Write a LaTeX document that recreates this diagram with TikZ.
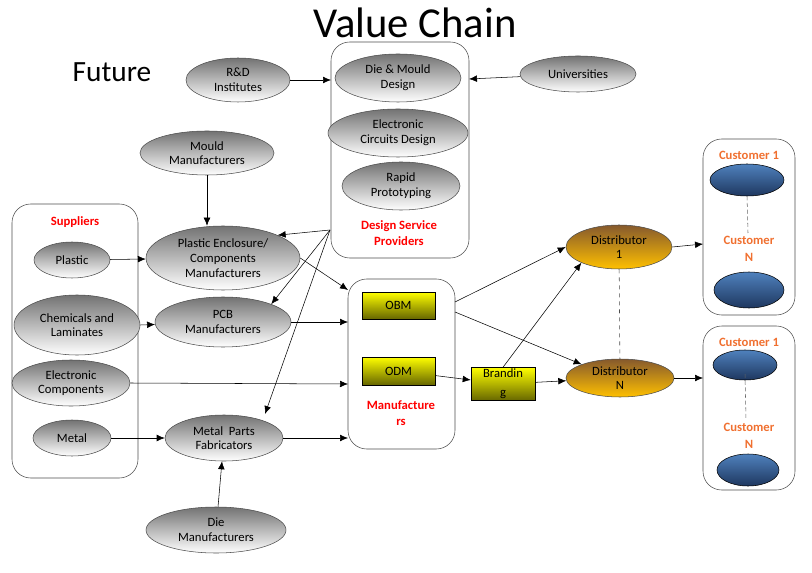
\documentclass[tikz,border=0pt]{standalone}
\usepackage{fontspec}
\setmainfont{Carlito}
\usetikzlibrary{shapes.geometric,arrows.meta}
\definecolor{dsp}{HTML}{FF0000}
\definecolor{cust}{HTML}{F07030}
\begin{document}
\begin{tikzpicture}[x=0.75pt,y=-0.75pt,
 ge/.style={ellipse,draw=black!70,top color=black!55,bottom color=white,inner sep=0pt,align=center,font=\fontsize{9.5}{11}\selectfont},
 de/.style={ellipse,draw=black!70,top color=brown!70!black,bottom color={rgb,255:red,255;green,192;blue,0},inner sep=0pt,align=center,font=\fontsize{9.5}{11}\selectfont},
 ce/.style={ellipse,draw=black,top color={rgb,255:red,79;green,129;blue,189},bottom color={rgb,255:red,30;green,55;blue,95},inner sep=0pt},
 yr/.style={rectangle,draw=black,top color=yellow,bottom color=olive!80!black,inner sep=0pt,align=center,font=\fontsize{9.5}{11}\selectfont},
 box/.style={draw=black!70,rounded corners=14pt,inner sep=0pt},
 rl/.style={text=dsp,font=\bfseries\fontsize{9.5}{12.5}\selectfont,align=center},
 cl/.style={text=cust,font=\bfseries\fontsize{9.5}{12.5}\selectfont,align=center},
 ar/.style={-{Latex[length=6pt,width=5pt]},black}]
\useasboundingbox (0,0) rectangle (812,573);
\node (title) at (415,23) {\fontsize{32}{34}\selectfont Value Chain};
\node (future) at (112,72) {\fontsize{22}{24}\selectfont Future};
% boxes
\node[box,minimum width=138*0.75pt,minimum height=216*0.75pt] (dbox) at (400,150) {};
\node[box,minimum width=126*0.75pt,minimum height=274*0.75pt] (sbox) at (75,341) {};
\node[box,minimum width=107*0.75pt,minimum height=170*0.75pt] (mbox) at (401.5,364) {};
\node[box,minimum width=92*0.75pt,minimum height=176*0.75pt] (cbox1) at (749,227) {};
\node[box,minimum width=92*0.75pt,minimum height=164*0.75pt] (cbox2) at (749,408) {};
% design
\node[ge,minimum width=104*0.75pt,minimum height=44*0.75pt] (rd) at (238,80) {R\&D\\Institutes};
\node[ge,minimum width=126*0.75pt,minimum height=48*0.75pt] (dm) at (398,78) {Die \& Mould\\Design};
\node[ge,minimum width=140*0.75pt,minimum height=48*0.75pt] (ecd) at (398,133) {Electronic\\Circuits Design};
\node[ge,minimum width=118*0.75pt,minimum height=48*0.75pt] (rp) at (401,186) {Rapid\\Prototyping};
\node[rl] (dsl) at (399,233) {Design Service\\Providers};
\node[ge,minimum width=116*0.75pt,minimum height=36*0.75pt] (uni) at (578,74) {Universities};
\node[ge,minimum width=134*0.75pt,minimum height=44*0.75pt] (mould) at (207,153) {Mould\\Manufacturers};
% suppliers
\node[rl] (supl) at (75,222) {Suppliers};
\node[ge,minimum width=76*0.75pt,minimum height=36*0.75pt] (plastic) at (72,260) {Plastic};
\node[ge,minimum width=126*0.75pt,minimum height=60*0.75pt] (chem) at (77,325) {Chemicals and\\Laminates};
\node[ge,minimum width=118*0.75pt,minimum height=46*0.75pt] (elec) at (71,383) {Electronic\\Components};
\node[ge,minimum width=78*0.75pt,minimum height=36*0.75pt] (metal) at (72,438) {Metal};
% middle
\node[ge,minimum width=154*0.75pt,minimum height=64*0.75pt] (pe) at (223,258) {Plastic Enclosure/\\Components\\Manufacturers};
\node[ge,minimum width=136*0.75pt,minimum height=50*0.75pt] (pcb) at (223,322) {PCB\\Manufacturers};
\node[ge,minimum width=118*0.75pt,minimum height=46*0.75pt] (mpf) at (224,438) {Metal~ Parts\\Fabricators};
\node[ge,minimum width=140*0.75pt,minimum height=46*0.75pt] (die) at (216,530) {Die\\Manufacturers};
% manufacturers
\node[yr,minimum width=73*0.75pt,minimum height=27*0.75pt] (obm) at (398.5,305.5) {OBM};
\node[yr,minimum width=73*0.75pt,minimum height=28*0.75pt] (odm) at (398.5,371) {ODM};
\node[rl] (manl) at (401,413) {Manufacture\\rs};
\node[yr,minimum width=64*0.75pt,minimum height=33*0.75pt,font=\fontsize{9.5}{14}\selectfont] (brand) at (503,384) {Brandin\\g};
% distributors
\node[de,minimum width=106*0.75pt,minimum height=44*0.75pt] (d1) at (619,247) {Distributor\\1};
\node[de,minimum width=108*0.75pt,minimum height=38*0.75pt] (dn) at (620,378) {Distributor\\N};
% customers
\node[cl] (c11) at (749,155) {Customer 1};
\node[ce,minimum width=74*0.75pt,minimum height=32*0.75pt] (ce11) at (747,180) {};
\node[cl] (c1n) at (749,249) {Customer\\N};
\node[ce,minimum width=70*0.75pt,minimum height=36*0.75pt] (ce1n) at (749,290) {};
\node[cl] (c21) at (749,342) {Customer 1};
\node[ce,minimum width=64*0.75pt,minimum height=30*0.75pt] (ce21) at (745,365) {};
\node[cl] (c2n) at (749,436) {Customer\\N};
\node[ce,minimum width=62*0.75pt,minimum height=32*0.75pt] (ce2n) at (748,470) {};
% coordinates
\coordinate (dL) at (330,230);
\coordinate (mA) at (348,290);
\coordinate (mB) at (348,322);
\coordinate (mC) at (348,384);
\coordinate (mD) at (348,438);
\coordinate (mR1) at (455,302);
\coordinate (mR2) at (455,312);
\coordinate (dmL) at (331,80);
\coordinate (dmR) at (469,79);
% arrows
\draw[ar] (rd) -- (dmL);
\draw[ar] (uni) -- (dmR);
\draw[ar] (mould.south) -- (mould.south |- pe.north);
\draw[ar] (dL) -- (pe.north east);
\draw[ar] (dL) -- (pcb.north east);
\draw[ar] (dL) -- (265,414);
\draw[ar] (plastic) -- (pe);
\draw[ar] (chem.east) -- (pcb);
\draw[ar] (elec.east) -- (mC);
\draw[ar] (metal) -- (mpf);
\draw[ar] (die) -- (mpf);
\draw[ar] (pe.east) -- (mA);
\draw[ar] (pcb.east) -- (mB);
\draw[ar] (mpf.east) -- (mD);
\draw[ar] (odm) -- (brand);
\draw[ar] (brand) -- (dn);
\draw[ar] (brand.north) -- (d1.south west);
\draw[ar] (mR1) -- (d1.west);
\draw[ar] (mR2) -- (dn.north west);
\draw[ar] (d1.east) -- (703,244);
\draw[ar] (dn.east) -- (703,378);
\draw[dashed,black!70] (d1) -- (dn);
\draw[densely dashed,black!60] (ce11.south) -- (748,233);
\draw[densely dashed,black!60] (745,374) -- (746,420);
\end{tikzpicture}
\end{document}
